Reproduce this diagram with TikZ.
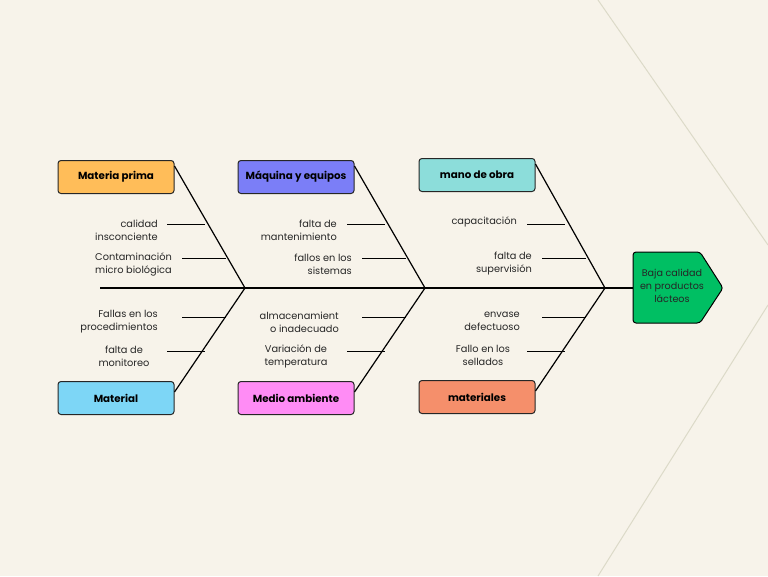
\documentclass[tikz,border=0pt]{standalone}
\usepackage{fontspec}
\setmainfont{Poppins}
\definecolor{bg}{RGB}{247,243,234}
\definecolor{deco}{RGB}{220,218,200}
\definecolor{cgreen}{RGB}{0,191,99}
\definecolor{corange}{RGB}{255,189,89}
\definecolor{cpurple}{RGB}{123,126,247}
\definecolor{cteal}{RGB}{140,221,218}
\definecolor{cblue}{RGB}{125,214,246}
\definecolor{cpink}{RGB}{255,140,245}
\definecolor{csalmon}{RGB}{245,143,107}
\begin{document}
\begin{tikzpicture}[x=1pt,y=-1pt,
  cat/.style={draw=black!85,line width=1pt,rounded corners=3pt,minimum width=116pt,minimum height=33pt,font=\bfseries\fontsize{10.3}{12}\selectfont,inner sep=0pt},
  lbl/.style={font=\fontsize{9.8}{13}\selectfont,inner sep=0pt,text=black!85},
  bone/.style={line width=1.2pt},
  sub/.style={line width=1pt}]
\fill[bg] (0,0) rectangle (768,576);
\useasboundingbox (0,0) rectangle (768,576);
\draw[deco,line width=1pt] (598,0) -- (768,245);
\draw[deco,line width=1pt] (768,305) -- (598,576);
% head
\path[draw=black,line width=1pt,fill=cgreen,rounded corners=3pt] (633,252) -- (700,252) -- (723,288) -- (700,323) -- (633,323) -- cycle;
\node[lbl,align=center,font=\fontsize{9.6}{13}\selectfont] (headtxt) at (672,286) {Baja calidad\\en productos\\lácteos};
% spine
\coordinate (s0) at (100,288);
\coordinate (j1) at (245,288);
\coordinate (j2) at (425,288);
\coordinate (j3) at (605,288);
\coordinate (hl) at (633,288);
\draw[bone] (s0) -- (hl);
% boxes
\node[cat,fill=corange] (b1) at (116,177) {Materia prima};
\node[cat,fill=cpurple] (b2) at (296,177) {Máquina y equipos};
\node[cat,fill=cteal] (b3) at (477,175) {mano de obra};
\node[cat,fill=cblue] (b4) at (116,398) {Material};
\node[cat,fill=cpink] (b5) at (296,398) {Medio ambiente};
\node[cat,fill=csalmon] (b6) at (477,397) {materiales};
\draw[bone] ([yshift=-6pt]b1.north east) -- (j1);
\draw[bone] ([yshift=-6pt]b2.north east) -- (j2);
\draw[bone] ([yshift=-6pt]b3.north east) -- (j3);
\draw[bone] (j1) -- ([yshift=6pt]b4.east);
\draw[bone] (j2) -- ([yshift=6pt]b5.east);
\draw[bone] (j3) -- ([yshift=6pt]b6.east);
% sub-bones
\foreach \dx in {0,180,360}{
  \draw[sub] (167+\dx,224) -- (205+\dx,224);
  \draw[sub] (182+\dx,258) -- (226+\dx,258);
  \draw[sub] (182+\dx,317) -- (226+\dx,317);
  \draw[sub] (167+\dx,351) -- (205+\dx,351);
}
% labels
\node[lbl,align=right,anchor=east] (t1) at (158,230) {calidad\\insconciente};
\node[lbl,align=right,anchor=east] (t2) at (172,264) {Contaminación\\micro biológica};
\node[lbl,align=right,anchor=east] (t3) at (158,322) {Fallas en los\\procedimientos};
\node[lbl,align=center] (t4) at (124,356) {falta de\\monitoreo};
\node[lbl,align=right,anchor=east] (t5) at (337,230) {falta de\\mantenimiento};
\node[lbl,align=right,anchor=east] (t6) at (352,264) {fallos en los\\sistemas};
\node[lbl,align=right,anchor=east] (t7) at (339,322) {almacenamient\\o inadecuado};
\node[lbl,align=center] (t8) at (296,356) {Variación de\\temperatura};
\node[lbl,anchor=east] (t9) at (517,222) {capacitación};
\node[lbl,align=right,anchor=east] (t10) at (532,264) {falta de\\supervisión};
\node[lbl,align=right,anchor=east] (t11) at (520,321) {envase\\defectuoso};
\node[lbl,align=center] (t12) at (483,355) {Fallo en los\\sellados};
\end{tikzpicture}
\end{document}
